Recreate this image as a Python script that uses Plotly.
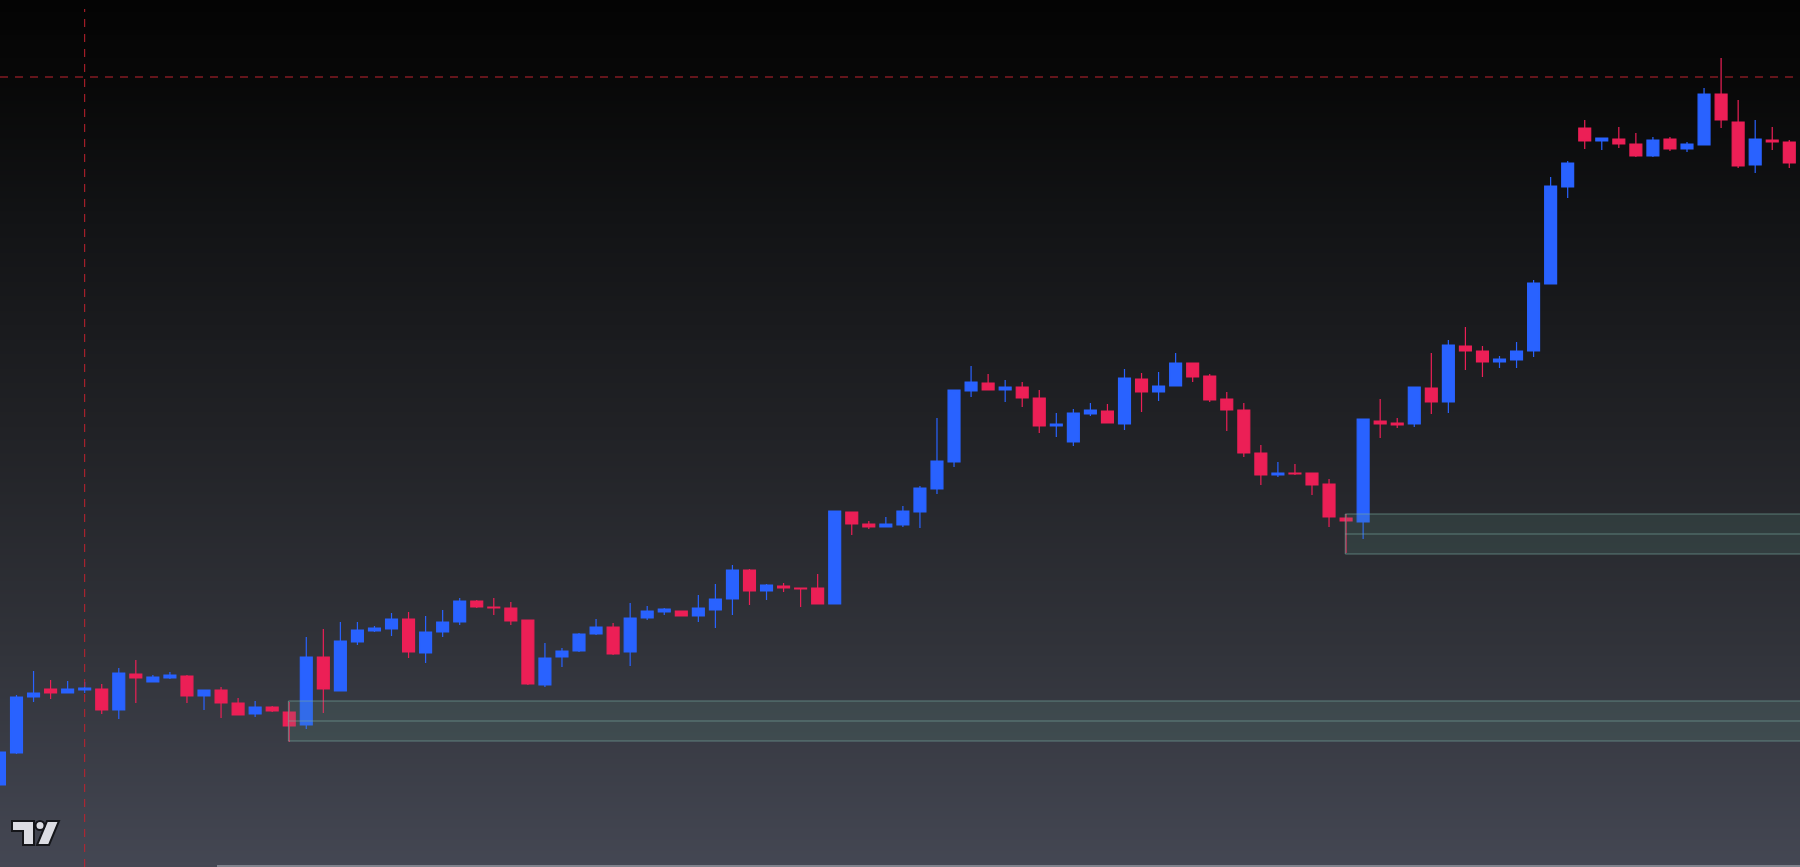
import numpy as np
import plotly.graph_objects as go

# ---- data (price units) ----
opens = [82, 114, 170, 178, 174, 177, 178, 157, 193, 185, 189, 191, 171, 177, 164, 153, 160, 155, 142, 210,
         176, 225, 236, 238, 248, 214, 235, 245, 266, 260, 259, 247, 182, 210, 216, 233, 240, 215, 249, 255,
         256, 251, 257, 268, 297, 276, 281, 279, 279, 263, 355, 343, 340, 342, 355, 378, 405, 476, 484, 477,
         480, 469, 441, 425, 453, 456, 443, 488, 475, 481, 504, 491, 468, 457, 414, 392, 394, 394, 383, 349,
         345, 446, 444, 443, 479, 465, 521, 516, 505, 507, 516, 583, 680, 739, 726, 728, 723, 711, 728, 718,
         722, 773, 745, 702, 727, 725]
highs = [115, 172, 196, 187, 186, 185, 183, 199, 207, 192, 195, 192, 177, 180, 169, 166, 161, 165, 230, 238,
         245, 245, 241, 254, 255, 251, 257, 269, 267, 269, 265, 247, 224, 219, 234, 248, 244, 264, 261, 259,
         256, 272, 283, 302, 298, 283, 284, 279, 293, 356, 355, 346, 350, 361, 381, 449, 477, 501, 493, 487,
         485, 477, 454, 458, 464, 463, 498, 494, 495, 514, 504, 493, 475, 464, 422, 405, 403, 394, 388, 353,
         448, 468, 449, 480, 514, 527, 540, 521, 511, 525, 587, 690, 706, 747, 729, 740, 734, 730, 730, 725,
         779, 809, 767, 747, 740, 727]
lows = [81, 113, 165, 168, 174, 174, 153, 148, 164, 185, 188, 164, 157, 149, 152, 150, 155, 125, 138, 154,
        176, 222, 235, 231, 209, 204, 230, 242, 259, 252, 242, 182, 180, 200, 215, 232, 212, 201, 247, 252,
        251, 245, 239, 252, 262, 267, 275, 260, 263, 263, 332, 338, 340, 340, 339, 373, 400, 470, 477, 465,
        460, 434, 430, 421, 451, 444, 437, 455, 466, 481, 485, 465, 436, 410, 382, 390, 392, 372, 340, 314,
        328, 429, 439, 440, 453, 454, 497, 490, 499, 499, 510, 583, 669, 718, 717, 719, 710, 710, 716, 715,
        722, 739, 699, 694, 717, 699]
closes = [115, 170, 174, 174, 178, 179, 157, 194, 189, 190, 192, 171, 177, 164, 152, 160, 156, 141, 210, 178,
          226, 237, 239, 248, 215, 235, 245, 266, 260, 259, 246, 183, 209, 216, 233, 240, 213, 249, 256, 258,
          251, 259, 268, 297, 276, 282, 279, 278, 263, 356, 343, 340, 343, 356, 379, 406, 477, 485, 477, 480,
          469, 441, 443, 454, 457, 444, 489, 475, 481, 504, 490, 467, 457, 414, 392, 394, 393, 382, 350, 346,
          448, 443, 442, 480, 465, 522, 516, 505, 508, 516, 584, 681, 704, 726, 729, 723, 711, 727, 718, 723,
          773, 747, 701, 728, 725, 704]
bars = list(range(len(opens)))

# zones (price bounds) and their starting bar
zone_start = [17, 79]
zone_top = [166, 353]
zone_mid = [146, 333]
zone_bot = [126, 313]

# crosshair
cross_bar = 5
cross_price = 790

W, H = 1800, 867
SPACING = 17.046
X0 = -0.546  # pixel of bar 0 center

xr = [(0 - X0) / SPACING, (W - X0) / SPACING]
yr = [0, 867]
x_end = xr[1] + 1

fig = go.Figure()

# background gradient
gy = np.linspace(0, 867, 80)
fig.add_trace(go.Heatmap(
    x=[xr[0] - 2, xr[1] + 2], y=gy, z=[[v, v] for v in gy],
    colorscale=[[0, "#444753"], [0.25, "#31333a"], [0.5, "#212226"], [0.75, "#121315"], [0.92, "#070707"], [1, "#040404"]],
    zsmooth="best", showscale=False, hoverinfo="skip"))

# zones (drawn between background and candles)
ZFILL = "rgba(95,150,135,0.18)"
ZLINE = "rgba(120,170,160,0.6)"
for s, t, m, b in zip(zone_start, zone_top, zone_mid, zone_bot):
    xs = s - 0.05
    fig.add_trace(go.Scatter(x=[xs, x_end, x_end, xs, xs], y=[b, b, t, t, b], mode="lines",
                             fill="toself", fillcolor=ZFILL, line=dict(color=ZLINE, width=1),
                             hoverinfo="skip", showlegend=False))
    fig.add_trace(go.Scatter(x=[xs, x_end], y=[m, m], mode="lines",
                             line=dict(color=ZLINE, width=1), hoverinfo="skip", showlegend=False))

fig.add_trace(go.Candlestick(
    x=bars, open=opens, high=highs, low=lows, close=closes,
    increasing=dict(line=dict(color="#2962ff", width=1.2), fillcolor="#2962ff"),
    decreasing=dict(line=dict(color="#ec1f56", width=1.2), fillcolor="#ec1f56"),
    whiskerwidth=0, showlegend=False))

shapes = []
# crosshair
CROSS = "#c0232f"
shapes.append(dict(type="line", xref="x", yref="y", x0=cross_bar, x1=cross_bar, y0=0, y1=858,
                   line=dict(color=CROSS, width=1, dash="8px,7px")))
shapes.append(dict(type="line", xref="paper", yref="y", x0=0, x1=1, y0=cross_price, y1=cross_price,
                   line=dict(color=CROSS, width=1, dash="8px,7px")))

# bottom scrollbar strip
shapes.append(dict(type="rect", xref="paper", yref="paper", x0=217 / W, x1=1, y0=0, y1=2 / H,
                   fillcolor="#80828c", line=dict(width=0)))


# TradingView logo (pixel coords -> paper)
def pth(pts):
    return "M " + " L ".join(f"{x / W:.5f},{1 - y / H:.5f}" for x, y in pts) + " Z"


logo_style = dict(xref="paper", yref="paper", fillcolor="#dcdde3", line=dict(color="#15161a", width=2))
shapes.append(dict(type="path", path=pth([(12, 821), (34, 821), (34, 845), (23, 845), (23, 831), (12, 831)]), **logo_style))
shapes.append(dict(type="path", path=pth([(47, 821), (59, 821), (49, 845), (37, 845)]), **logo_style))
shapes.append(dict(type="circle", x0=35.5 / W, x1=44.5 / W, y0=1 - 830 / H, y1=1 - 821 / H, **logo_style))

fig.update_layout(
    width=W, height=H, margin=dict(l=0, r=0, t=0, b=0),
    paper_bgcolor="#000000", plot_bgcolor="#000000",
    xaxis=dict(range=xr, visible=False, showgrid=False, rangeslider=dict(visible=False), fixedrange=True),
    yaxis=dict(range=yr, visible=False, showgrid=False, fixedrange=True),
    boxgap=0.3, boxgroupgap=0,
    shapes=shapes, showlegend=False,
)

fig.write_html("out.html", config={"displayModeBar": False},
               post_script="document.body.style.margin='0px';document.body.style.background='#000';")
